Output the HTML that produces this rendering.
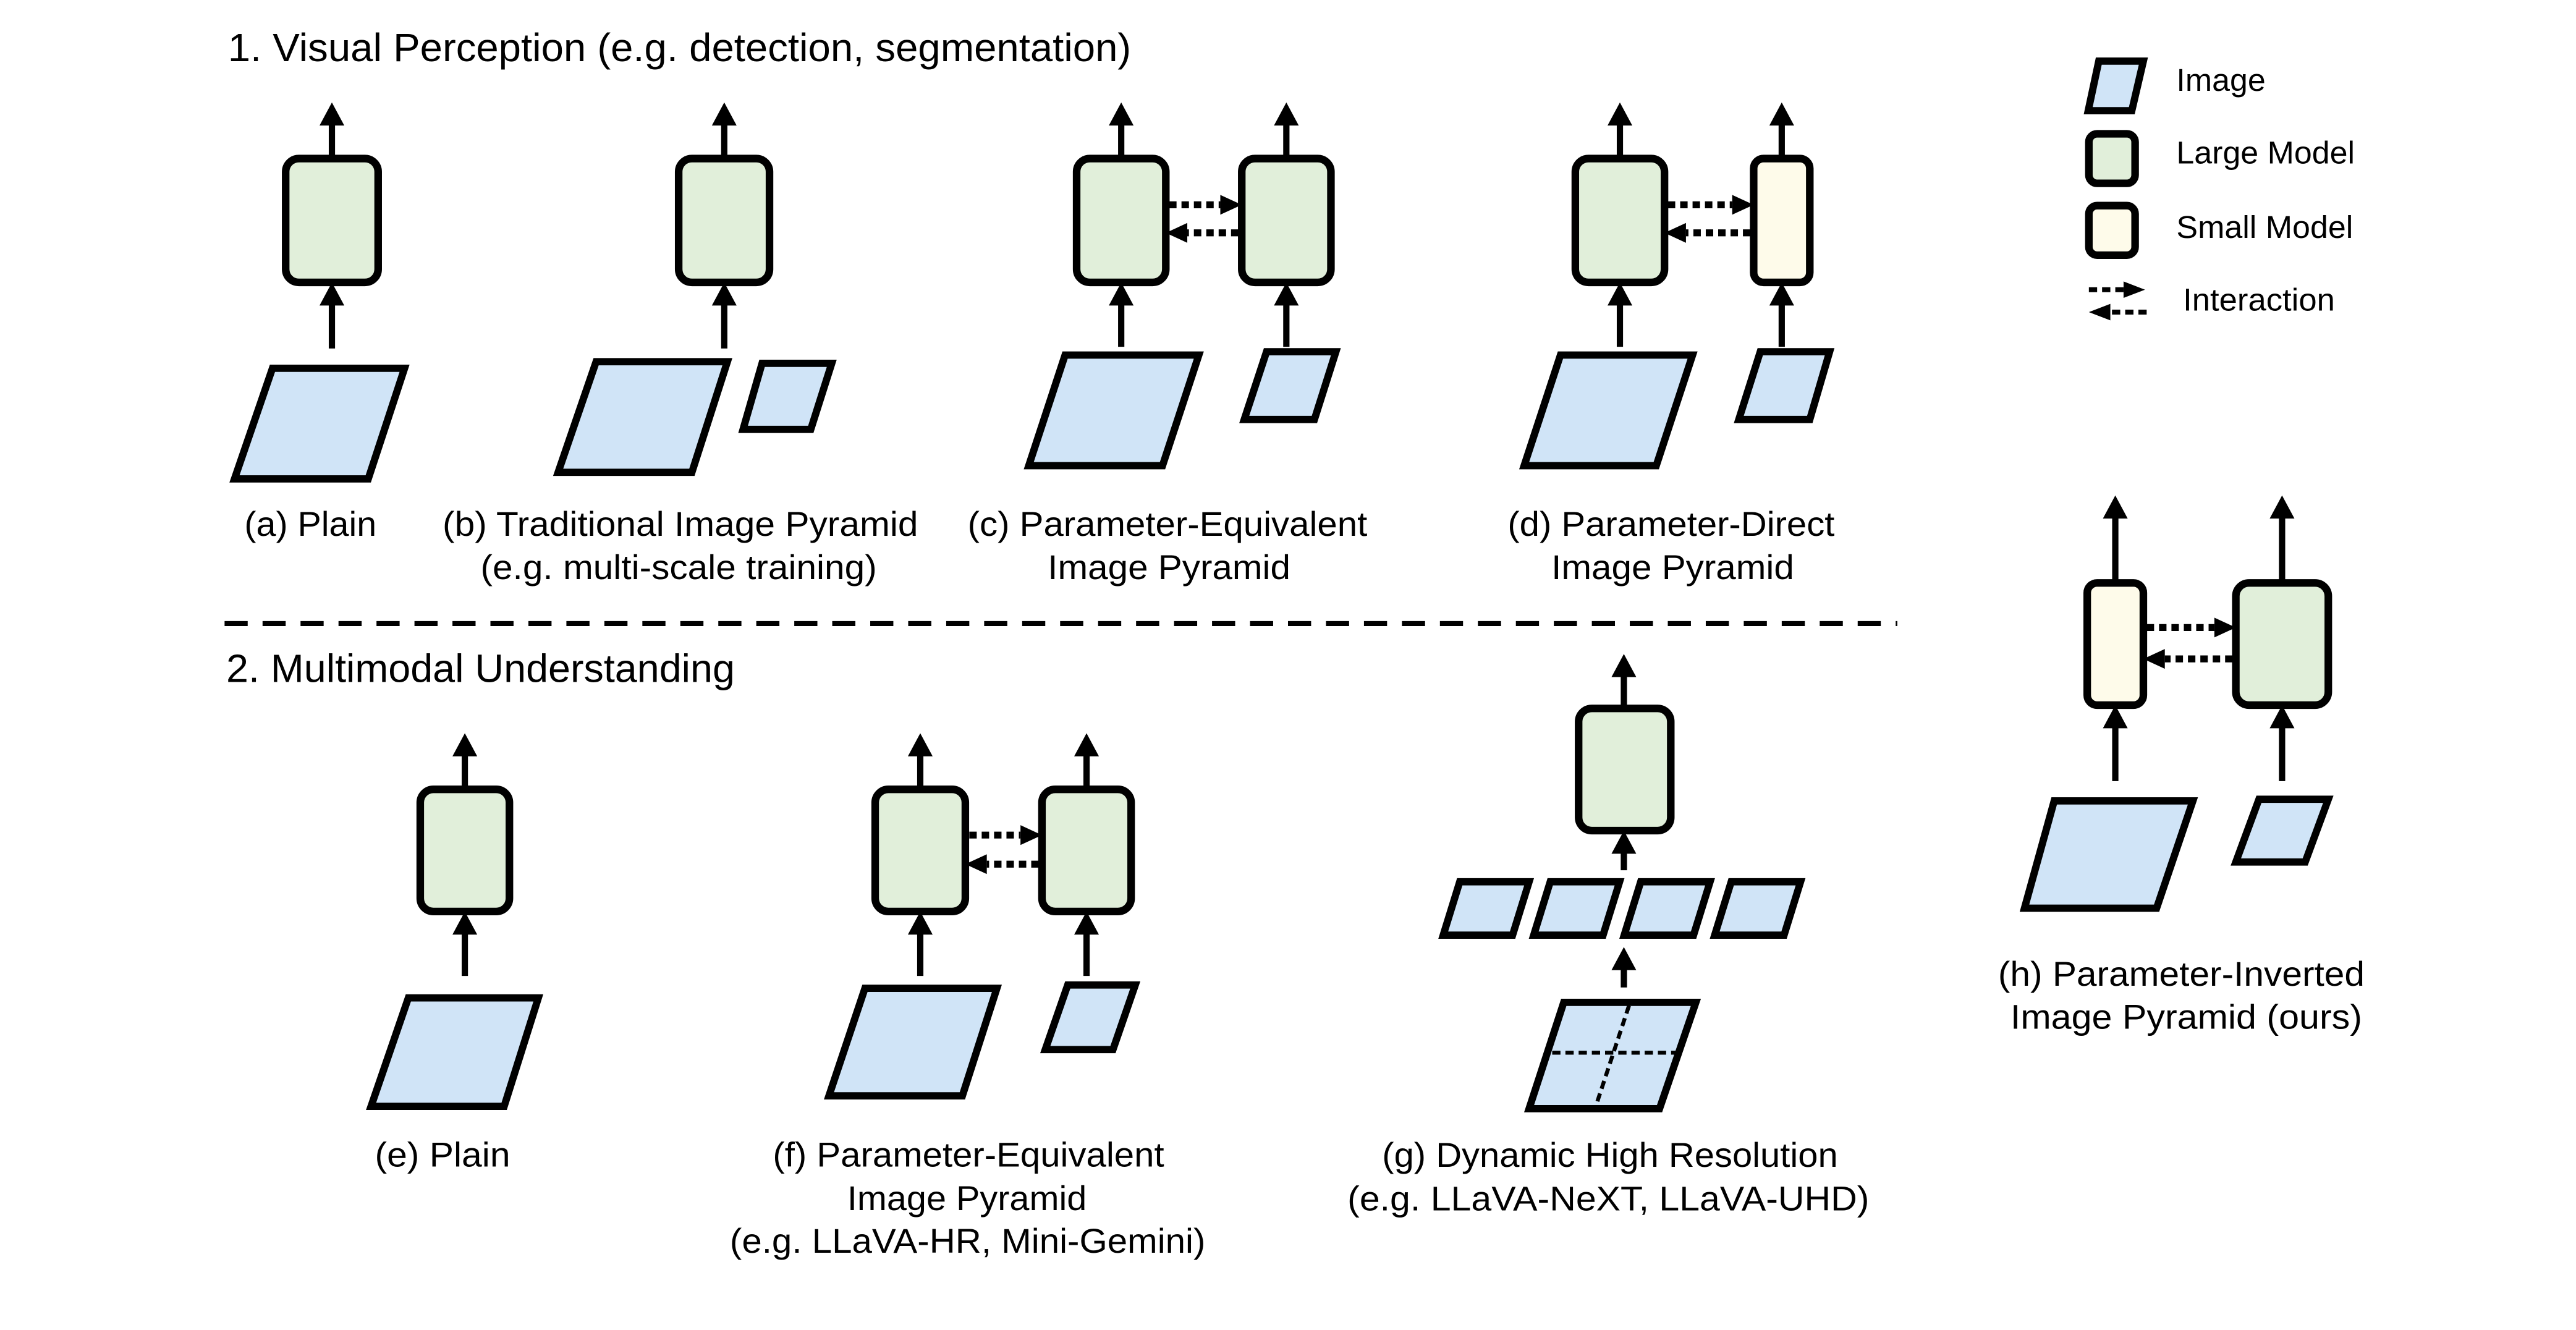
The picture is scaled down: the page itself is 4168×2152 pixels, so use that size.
<!DOCTYPE html>
<html><head><meta charset="utf-8"><style>
html,body{margin:0;padding:0;background:#fff;width:4168px;height:2152px;overflow:hidden}
svg{display:block}
text{font-family:"Liberation Sans",Arial,sans-serif;fill:#000}
.g{fill:#e1efda;stroke:#000;stroke-width:4.6}
.y{fill:#fefbea;stroke:#000;stroke-width:4.6}
.b{fill:#d0e4f7;stroke:#000;stroke-width:4.4;stroke-linejoin:miter}
.l{stroke:#000;stroke-width:3.8;fill:none}
.d{stroke:#000;stroke-width:4.2;fill:none;stroke-dasharray:4.5 3}
.lab{font-size:21px}
</style></head><body>
<svg width="4168" height="2152" viewBox="0 0 1560 805.4" xmlns="http://www.w3.org/2000/svg">
<defs>
<g id="ah"><polygon points="-7.5,14 7.5,14 0,0" fill="#000"/></g>
</defs>

<text x="138" y="37" font-size="24" textLength="547" lengthAdjust="spacingAndGlyphs">1. Visual Perception (e.g. detection, segmentation)</text>
<text x="137" y="413" font-size="24" textLength="308" lengthAdjust="spacingAndGlyphs">2. Multimodal Understanding</text>
<line x1="136" y1="377.6" x2="1149" y2="377.6" stroke="#000" stroke-width="3" stroke-dasharray="14 9"/>

<!-- (a) -->
<line class="l" x1="201" y1="96" x2="201" y2="74"/><use href="#ah" x="201" y="62"/>
<line class="l" x1="201" y1="211" x2="201" y2="182"/><use href="#ah" x="201" y="171"/>
<rect class="g" x="173" y="96" width="56" height="75" rx="8"/>
<polygon class="b" points="165,223 245,223 223,290 142,290"/>
<text class="lab" x="188" y="324.4" text-anchor="middle" textLength="80" lengthAdjust="spacingAndGlyphs">(a) Plain</text>

<!-- (b) -->
<line class="l" x1="438.6" y1="96" x2="438.6" y2="74"/><use href="#ah" x="438.6" y="62"/>
<line class="l" x1="438.6" y1="211" x2="438.6" y2="182"/><use href="#ah" x="438.6" y="171"/>
<rect class="g" x="411" y="96" width="55" height="75" rx="8"/>
<polygon class="b" points="361,219 440.5,219 419,286 338,286"/>
<polygon class="b" points="461.5,220 503.7,220 491,260 450,260"/>
<text class="lab" x="412" y="324.4" text-anchor="middle" textLength="288" lengthAdjust="spacingAndGlyphs">(b) Traditional Image Pyramid</text>
<text class="lab" x="411" y="350.6" text-anchor="middle" textLength="240" lengthAdjust="spacingAndGlyphs">(e.g. multi-scale training)</text>

<!-- (c) -->
<line class="l" x1="679" y1="96" x2="679" y2="74"/><use href="#ah" x="679" y="62"/>
<line class="l" x1="679" y1="210" x2="679" y2="182"/><use href="#ah" x="679" y="171"/>
<line class="l" x1="779" y1="96" x2="779" y2="74"/><use href="#ah" x="779" y="62"/>
<line class="l" x1="779" y1="210" x2="779" y2="182"/><use href="#ah" x="779" y="171"/>
<rect class="g" x="652" y="96" width="54" height="75" rx="8"/>
<rect class="g" x="752" y="96" width="54" height="75" rx="8"/>
<line class="d" x1="708" y1="124" x2="739" y2="124"/><polygon points="739,118 752,124 739,130" fill="#000"/>
<line class="d" x1="750" y1="141" x2="719" y2="141"/><polygon points="719,135 706,141 719,147" fill="#000"/>
<polygon class="b" points="645,215 726,215 704,282 623,282"/>
<polygon class="b" points="767,213 809,213 796,254 753.5,254"/>
<text class="lab" x="707" y="324.4" text-anchor="middle" textLength="242" lengthAdjust="spacingAndGlyphs">(c) Parameter-Equivalent</text>
<text class="lab" x="708" y="350.6" text-anchor="middle" textLength="147" lengthAdjust="spacingAndGlyphs">Image Pyramid</text>

<!-- (d) -->
<line class="l" x1="981" y1="96" x2="981" y2="74"/><use href="#ah" x="981" y="62"/>
<line class="l" x1="981" y1="210" x2="981" y2="182"/><use href="#ah" x="981" y="171"/>
<line class="l" x1="1079" y1="96" x2="1079" y2="74"/><use href="#ah" x="1079" y="62"/>
<line class="l" x1="1079" y1="210" x2="1079" y2="182"/><use href="#ah" x="1079" y="171"/>
<rect class="g" x="954" y="96" width="54" height="75" rx="8"/>
<rect class="y" x="1062" y="96" width="34" height="75" rx="6"/>
<line class="d" x1="1010" y1="124" x2="1049" y2="124"/><polygon points="1049,118 1062,124 1049,130" fill="#000"/>
<line class="d" x1="1060" y1="141" x2="1021" y2="141"/><polygon points="1021,135 1008,141 1021,147" fill="#000"/>
<polygon class="b" points="945,215 1025,215 1003,282 923,282"/>
<polygon class="b" points="1066,213 1108,213 1096,254 1053,254"/>
<text class="lab" x="1012" y="324.4" text-anchor="middle" textLength="198" lengthAdjust="spacingAndGlyphs">(d) Parameter-Direct</text>
<text class="lab" x="1013" y="350.6" text-anchor="middle" textLength="147" lengthAdjust="spacingAndGlyphs">Image Pyramid</text>

<!-- legend -->
<polygon class="b" points="1271,37 1298,37 1291,67 1264.6,67" stroke-width="3.8"/>
<text x="1318" y="55" font-size="19" textLength="54" lengthAdjust="spacingAndGlyphs">Image</text>
<rect class="g" x="1265" y="81" width="28" height="30" rx="5" stroke-width="3.8"/>
<text x="1318" y="99" font-size="19" textLength="108" lengthAdjust="spacingAndGlyphs">Large Model</text>
<rect class="y" x="1265" y="124.5" width="28" height="30" rx="5" stroke-width="3.8"/>
<text x="1318" y="144" font-size="19" textLength="107" lengthAdjust="spacingAndGlyphs">Small Model</text>
<line x1="1265" y1="175.4" x2="1287" y2="175.4" stroke="#000" stroke-width="3" stroke-dasharray="5 3"/>
<polygon points="1286,170.4 1299,175.4 1286,180.4" fill="#000"/>
<line x1="1300" y1="189" x2="1278" y2="189" stroke="#000" stroke-width="3" stroke-dasharray="5 3"/>
<polygon points="1278,184 1265,189 1278,194" fill="#000"/>
<text x="1322" y="188" font-size="19" textLength="92" lengthAdjust="spacingAndGlyphs">Interaction</text>

<!-- (e) -->
<line class="l" x1="281.5" y1="478" x2="281.5" y2="456"/><use href="#ah" x="281.5" y="444"/>
<line class="l" x1="281.5" y1="591" x2="281.5" y2="563"/><use href="#ah" x="281.5" y="552"/>
<rect class="g" x="254.5" y="478" width="54" height="74" rx="8"/>
<polygon class="b" points="247.3,604.3 326,604.3 305.3,670 224.7,670"/>
<text class="lab" x="268" y="706.5" text-anchor="middle" textLength="82" lengthAdjust="spacingAndGlyphs">(e) Plain</text>

<!-- (f) -->
<line class="l" x1="557.3" y1="478" x2="557.3" y2="456"/><use href="#ah" x="557.3" y="444"/>
<line class="l" x1="557.3" y1="591" x2="557.3" y2="563"/><use href="#ah" x="557.3" y="552"/>
<line class="l" x1="658" y1="478" x2="658" y2="456"/><use href="#ah" x="658" y="444"/>
<line class="l" x1="658" y1="591" x2="658" y2="563"/><use href="#ah" x="658" y="552"/>
<rect class="g" x="530" y="478" width="54.6" height="74" rx="8"/>
<rect class="g" x="631" y="478" width="54" height="74" rx="8"/>
<line class="d" x1="587" y1="505.7" x2="618" y2="505.7"/><polygon points="618,499.7 631,505.7 618,511.7" fill="#000"/>
<line class="d" x1="629" y1="523.3" x2="597.6" y2="523.3"/><polygon points="597.6,517.3 584.6,523.3 597.6,529.3" fill="#000"/>
<polygon class="b" points="523.8,598.5 603.7,598.5 582.8,663.6 502,663.6"/>
<polygon class="b" points="646.6,596.5 687.5,596.5 674,635.6 633,635.6"/>
<text class="lab" x="586.5" y="706.5" text-anchor="middle" textLength="237" lengthAdjust="spacingAndGlyphs">(f) Parameter-Equivalent</text>
<text class="lab" x="585.6" y="732.8" text-anchor="middle" textLength="145" lengthAdjust="spacingAndGlyphs">Image Pyramid</text>
<text class="lab" x="586" y="758.6" text-anchor="middle" textLength="288" lengthAdjust="spacingAndGlyphs">(e.g. LLaVA-HR, Mini-Gemini)</text>

<!-- (g) -->
<line class="l" x1="983.4" y1="429" x2="983.4" y2="408"/><use href="#ah" x="983.4" y="396"/>
<line class="l" x1="983.4" y1="527" x2="983.4" y2="514"/><use href="#ah" x="983.4" y="503"/>
<line class="l" x1="983.4" y1="598" x2="983.4" y2="585"/><use href="#ah" x="983.4" y="573.5"/>
<rect class="g" x="956" y="429" width="55.8" height="74" rx="8"/>
<polygon class="b" points="884,534 926,534 916,566.3 874,566.3"/>
<polygon class="b" points="938.8,534 980.8,534 970.8,566.3 928.8,566.3"/>
<polygon class="b" points="993.6,534 1035.6,534 1025.6,566.3 983.6,566.3"/>
<polygon class="b" points="1048.4,534 1090.4,534 1080.4,566.3 1038.4,566.3"/>
<polygon class="b" points="947,607 1027,607 1005,671.4 926,671.4"/>
<line x1="940" y1="637.5" x2="1015" y2="637.5" stroke="#000" stroke-width="2.4" stroke-dasharray="5 3"/>
<line x1="986.5" y1="609" x2="966.7" y2="669" stroke="#000" stroke-width="2.4" stroke-dasharray="5 3"/>
<text class="lab" x="975" y="706.7" text-anchor="middle" textLength="276" lengthAdjust="spacingAndGlyphs">(g) Dynamic High Resolution</text>
<text class="lab" x="974" y="733" text-anchor="middle" textLength="316" lengthAdjust="spacingAndGlyphs">(e.g. LLaVA-NeXT, LLaVA-UHD)</text>

<!-- (h) -->
<line class="l" x1="1281" y1="353" x2="1281" y2="312"/><use href="#ah" x="1281" y="300"/>
<line class="l" x1="1281" y1="473" x2="1281" y2="438"/><use href="#ah" x="1281" y="427"/>
<line class="l" x1="1382" y1="353" x2="1382" y2="312"/><use href="#ah" x="1382" y="300"/>
<line class="l" x1="1382" y1="473" x2="1382" y2="438"/><use href="#ah" x="1382" y="427"/>
<rect class="y" x="1264" y="353" width="34" height="74" rx="6"/>
<rect class="g" x="1354" y="353" width="56" height="74" rx="8"/>
<line class="d" x1="1300" y1="380" x2="1341" y2="380"/><polygon points="1341,374 1354,380 1341,386" fill="#000"/>
<line class="d" x1="1352" y1="399" x2="1311" y2="399"/><polygon points="1311,393 1298,399 1311,405" fill="#000"/>
<polygon class="b" points="1244,485 1328,485 1306,550 1226,550"/>
<polygon class="b" points="1368,484 1410,484 1396,522 1354,522"/>
<text class="lab" x="1321" y="597" text-anchor="middle" textLength="222" lengthAdjust="spacingAndGlyphs">(h) Parameter-Inverted</text>
<text class="lab" x="1324" y="623" text-anchor="middle" textLength="213" lengthAdjust="spacingAndGlyphs">Image Pyramid (ours)</text>
</svg>
</body></html>
